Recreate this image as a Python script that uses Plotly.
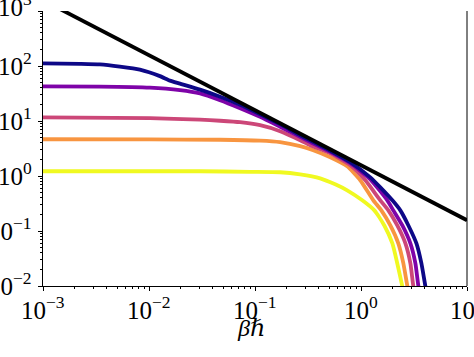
import math
import plotly.graph_objects as go

# Asymptote (black)
asym_x = [1e-3, 10.0]
asym_y = [1571.0, 0.157]

navy_x = [0.001, 0.00222, 0.00344, 0.00531, 0.0082, 0.01268, 0.01576, 0.0196, 0.0303, 0.0468, 0.0723, 0.1117,
          0.1725, 0.2667, 0.513, 0.793, 1.224, 1.521, 1.977, 2.35, 2.80, 3.334, 3.715, 4.055, 4.33]
navy_y = [111.4, 109.2, 106.9, 97.5, 85.9, 65.5, 54.2, 47.8, 37.2, 27.7, 19.8, 13.3,
          8.75, 5.51, 2.88, 1.78, 0.946, 0.622, 0.361, 0.237, 0.126, 0.0594, 0.0257, 0.0098, 0.0055]

purple_x = [0.001, 0.00344, 0.0102, 0.0196, 0.0303, 0.0468, 0.0723, 0.1117, 0.1725, 0.332, 0.513, 0.793,
            1.224, 1.771, 2.018, 2.455, 2.924, 3.26, 3.483, 3.72]
purple_y = [42.5, 42.2, 40.4, 36.4, 31.7, 23.9, 17.1, 11.9, 7.87, 4.16, 2.76, 1.71,
            0.871, 0.361, 0.237, 0.126, 0.0594, 0.0257, 0.0098, 0.0055]

pink_x = [0.001, 0.0102, 0.0303, 0.0468, 0.0723, 0.1117, 0.1725, 0.2667, 0.332, 0.513, 0.793, 1.099,
          1.521, 1.811, 2.20, 2.624, 2.924, 3.119, 3.334]
pink_y = [11.6, 11.25, 10.56, 10.1, 9.51, 8.38, 6.52, 4.47, 3.62, 2.59, 1.57, 0.836,
          0.361, 0.237, 0.126, 0.0594, 0.0257, 0.0098, 0.0055]

orange_x = [0.001, 0.0102, 0.0468, 0.1117, 0.1725, 0.2667, 0.354, 0.513, 0.741, 0.984, 1.307, 1.556,
            1.892, 2.249, 2.51, 2.742, 2.924]
orange_y = [4.66, 4.62, 4.56, 4.38, 4.11, 3.48, 2.94, 2.19, 1.50, 0.836, 0.361, 0.237,
            0.126, 0.0594, 0.0257, 0.0098, 0.0055]

yellow_x = [0.001, 0.0303, 0.090, 0.1725, 0.2667, 0.412, 0.571, 0.741, 1.028, 1.336, 1.660, 1.977,
            2.20, 2.455, 2.624]
yellow_y = [1.22, 1.22, 1.19, 1.17, 1.07, 0.908, 0.706, 0.549, 0.361, 0.237, 0.126, 0.0594,
            0.0257, 0.0098, 0.0055]

x_ticks = [1e-3, 1e-2, 1e-1, 1e0, 1e1]
x_ticktext = ["10<sup>−3</sup>", "10<sup>−2</sup>", "10<sup>−1</sup>", "10<sup>0</sup>", "10<sup>1</sup>"]
y_ticks = [1e-2, 1e-1, 1e0, 1e1, 1e2, 1e3]
y_ticktext = ["10<sup>−2</sup>", "10<sup>−1</sup>", "10<sup>0</sup>", "10<sup>1</sup>", "10<sup>2</sup>", "10<sup>3</sup>"]
x_title = "βℏ"

colors = ["#f0f921", "#f89540", "#cc4778", "#7e03a8", "#0d0887"]


def minor_vals(lo, hi):
    out = []
    for e in range(lo, hi):
        for m in range(2, 10):
            out.append(m * 10.0 ** e)
    return out


fig = go.Figure()
series = [(yellow_x, yellow_y), (orange_x, orange_y), (pink_x, pink_y),
          (purple_x, purple_y), (navy_x, navy_y)]
for (xs, ys), c in zip(series, colors):
    fig.add_trace(go.Scatter(x=xs, y=ys, mode="lines",
                             line=dict(color=c, width=3.8, shape="spline", smoothing=0.5),
                             showlegend=False, hoverinfo="skip"))
fig.add_trace(go.Scatter(x=asym_x, y=asym_y, mode="lines",
                         line=dict(color="black", width=3.8), showlegend=False, hoverinfo="skip"))

serif = "Liberation Serif, Times New Roman, DejaVu Serif, serif"
lab_font = dict(family=serif, size=25, color="black")

axis_common = dict(type="log", showgrid=False, zeroline=False, showline=True,
                   linecolor="black", linewidth=1, mirror=False, ticks="outside",
                   ticklen=4, tickwidth=1, tickcolor="black", showticklabels=False,
                   automargin=False, tickmode="array")

fig.update_xaxes(range=[-3, 1], tickvals=x_ticks,
                 minor=dict(tickvals=minor_vals(-3, 1), ticks="outside", ticklen=2, tickcolor="black"),
                 **axis_common)
fig.update_yaxes(range=[-2, 3], tickvals=y_ticks,
                 minor=dict(tickvals=minor_vals(-2, 3), ticks="outside", ticklen=2, tickcolor="black"),
                 **axis_common)

# tick labels as text annotations
for v, t in zip(x_ticks, x_ticktext):
    fig.add_annotation(x=math.log10(v), xref="x", y=0, yref="paper", text=t, showarrow=False,
                       xanchor="center", yanchor="top", yshift=-5, borderpad=0, font=lab_font)
for i, (v, t) in enumerate(zip(y_ticks, y_ticktext)):
    top = (i == len(y_ticks) - 1)
    fig.add_annotation(x=0, xref="paper", y=math.log10(v), yref="y", text=t, showarrow=False,
                       xanchor="right", yanchor="middle", xshift=-10, yshift=(6 if top else 2),
                       borderpad=0, font=lab_font)
fig.add_annotation(x=0.49, xref="paper", y=0, yref="paper", text="<i>" + x_title + "</i>", showarrow=False,
                   xanchor="center", yanchor="middle", yshift=-42, borderpad=0,
                   font=dict(family=serif, size=24, color="black"))

# right spine
fig.add_shape(type="line", xref="paper", yref="paper", x0=1, x1=1, y0=0, y1=1,
              line=dict(color="black", width=1))

fig.update_layout(width=474, height=357, margin=dict(l=43, r=7, t=11, b=71),
                  paper_bgcolor="white", plot_bgcolor="white")
fig.write_html("out.html", config={"displayModeBar": False},
               post_script="document.body.style.margin='0';document.body.style.overflow='hidden';")
